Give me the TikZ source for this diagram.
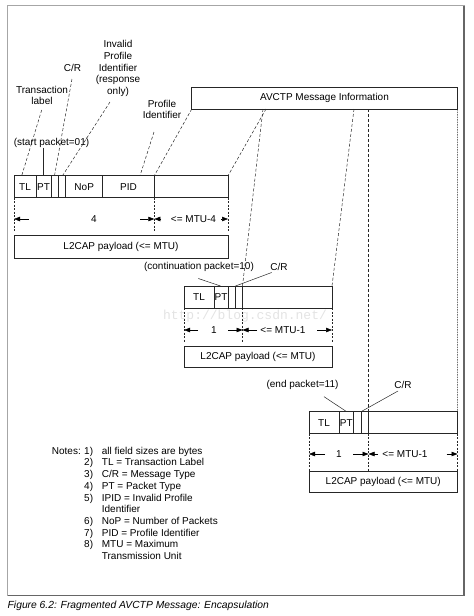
\documentclass[tikz,border=0pt]{standalone}
\usepackage{fontspec}
\setmainfont{Liberation Sans}
\newfontfamily\wmfont{Liberation Mono}
\usetikzlibrary{arrows.meta}
\begin{document}
\begin{tikzpicture}[x=1pt,y=-1pt,
  every node/.style={font=\fontsize{10}{11.7}\selectfont, inner sep=0pt},
  field/.style={draw=black!85, line width=0.6pt, minimum height=22pt, anchor=north west, inner sep=0pt, outer sep=0pt},
  lbl/.style={align=center},
  lead/.style={draw=black!85, line width=0.5pt, dash pattern=on 3pt off 2pt},
  solidlead/.style={draw=black!85, line width=0.5pt},
  dimline/.style={draw=black!85, line width=0.5pt, dash pattern=on 2pt off 1.5pt},
  fineline/.style={draw=black!85, line width=0.5pt, dash pattern=on 1.5pt off 1pt},
  arr/.style={draw=black, line width=0.5pt, -{Triangle[length=6pt,width=4.5pt]}},
  note/.style={anchor=base west},
]
\useasboundingbox (0,0) rectangle (474,616);
% frame
\draw[gray!70, line width=0.7pt] (7.5,5.5) rectangle (464,595);
\draw[black!60, line width=1.6pt] (464.2,5.5) -- (464.2,595.3) -- (7.5,595.3);
% watermark
\node[font=\wmfont\fontsize{13}{13}\selectfont, text=gray!22] (wm) at (245,316.5) {http://blog.csdn.net/};

% ---------------- packet 1 ----------------
\node[field, minimum width=22pt] (p1tl) at (14,175.7) {TL};
\node[field, minimum width=15pt] (p1pt) at (p1tl.north east) {PT};
\node[field, minimum width=7pt] (p1cr) at (p1pt.north east) {};
\node[field, minimum width=7.7pt] (p1ip) at (p1cr.north east) {};
\node[field, minimum width=37pt] (p1nop) at (p1ip.north east) {NoP};
\node[field, minimum width=51.6pt] (p1pid) at (p1nop.north east) {PID};
\node[field, minimum width=73.7pt] (p1pay) at (p1pid.north east) {};
\node[field, minimum width=214pt, minimum height=23pt] (p1l2) at (14,235) {L2CAP payload (<= MTU)};

% labels packet 1
\node[lbl] (tlab) at (42,95.5) {Transaction\\label};
\node (crlab) at (72.5,68) {C/R};
\node[lbl] (iplab) at (118,68.6) {Invalid\\Profile\\Identifier\\(response\\only)};
\node[lbl] (pidlab) at (162,109.5) {Profile\\Identifier};
\node (splab) at (51.5,143) {(start packet=01)};
\coordinate (tlA) at (41.7,110);   \coordinate (tlB) at (21.7,175.7);
\coordinate (crA) at (72,79);      \coordinate (crB) at (54.5,175.7);
\coordinate (ipA) at (110,102);    \coordinate (ipB) at (62.5,175.7);
\coordinate (pidA) at (154,132);   \coordinate (pidB) at (140,175.7);
\coordinate (spA) at (43.5,147.5);
\draw[lead] (tlA) -- (tlB);
\draw[lead] (crA) -- (crB);
\draw[lead] (ipA) -- (ipB);
\draw[lead] (pidA) -- (pidB);
\draw[solidlead] (spA) -- (spA |- p1pt.north);

% dimensions packet 1
\draw[dimline] (p1tl.south west) -- ++(0,34.5);
\draw[dimline] (p1pay.south west) -- ++(0,34.5);
\draw[dimline] (p1pay.south east) -- ++(0,34.5);
\node (p1d4) at (94,219) {4};
\node (p1dm) at (193.5,219) {<= MTU-4};
\coordinate (p1a1) at (28.7,219);
\coordinate (p1a2) at (140,219);
\coordinate (p1a3) at (161,219);
\coordinate (p1a4) at (221,219);
\draw[arr] (p1a1) -- (p1tl.south west |- p1a1);
\draw[arr] (p1a2) -- (p1pay.south west |- p1a2);
\draw[arr] (p1a3) -- (p1pay.south west |- p1a3);
\draw[arr] (p1a4) -- (p1pay.south east |- p1a4);

% ---------------- AVCTP box ----------------
\node[draw=black!85, line width=0.6pt, outer sep=0pt, minimum width=265.5pt, minimum height=22pt] (avctp) at (324.5,98) {AVCTP Message Information};

% ---------------- packet 2 ----------------
\node[field, minimum width=30pt] (p2tl) at (184,286) {TL};
\node[field, minimum width=14pt] (p2pt) at (p2tl.north east) {PT};
\node[field, minimum width=7.5pt] (p2cr) at (p2pt.north east) {};
\node[field, minimum width=7pt] (p2ip) at (p2cr.north east) {};
\node[field, minimum width=89.5pt] (p2pay) at (p2ip.north east) {};
\node[field, minimum width=148pt, minimum height=21pt] (p2l2) at (184,346) {L2CAP payload (<= MTU)};

\node (cplab) at (199,266.5) {(continuation packet=10)};
\node (cr2lab) at (279,266.5) {C/R};
\coordinate (cpA) at (198.3,278.5);  \coordinate (cpB) at (220.5,286);
\coordinate (cr2A) at (271.7,272.5); \coordinate (cr2B) at (235.5,286);
\draw[solidlead] (cpA) -- (cpB);
\draw[solidlead] (cr2A) -- (cr2B);

\draw[dimline] (p2tl.south west) -- ++(0,35);
\draw[dimline] (p2pay.south west) -- ++(0,35);
\draw[dimline] (p2pay.south east) -- ++(0,35);
\node (p2d1) at (214,330) {1};
\node (p2dm) at (283,330) {<= MTU-1};
\coordinate (p2a1) at (198,330);
\coordinate (p2a2) at (228,330);
\coordinate (p2a3) at (257,330);
\coordinate (p2a4) at (317,330);
\draw[arr] (p2a1) -- (p2tl.south west |- p2a1);
\draw[arr] (p2a2) -- (p2pay.south west |- p2a2);
\draw[arr] (p2a3) -- (p2pay.south west |- p2a3);
\draw[arr] (p2a4) -- (p2pay.south east |- p2a4);

% ---------------- packet 3 ----------------
\node[field, minimum width=30pt] (p3tl) at (309,411.7) {TL};
\node[field, minimum width=14.5pt] (p3pt) at (p3tl.north east) {PT};
\node[field, minimum width=7.5pt] (p3cr) at (p3pt.north east) {};
\node[field, minimum width=7.5pt] (p3ip) at (p3cr.north east) {};
\node[field, minimum width=89pt] (p3pay) at (p3ip.north east) {};
\node[field, minimum width=148.5pt, minimum height=21pt] (p3l2) at (309,471.7) {L2CAP payload (<= MTU)};

\node (eplab) at (302.5,385) {(end packet=11)};
\node (cr3lab) at (403,385) {C/R};
\coordinate (epA) at (324,396.7);  \coordinate (epB) at (346.7,411.7);
\coordinate (cr3A) at (398,391); \coordinate (cr3B) at (361,411.7);
\draw[solidlead] (epA) -- (epB);
\draw[solidlead] (cr3A) -- (cr3B);

\draw[dimline] (p3tl.south west) -- ++(0,37);
\draw[dimline] (p3pay.south west) -- ++(0,37);
\draw[dimline] (p3pay.south east) -- ++(0,37);
\node (p3d1) at (339,454) {1};
\node (p3dm) at (405,454) {<= MTU-1};
\coordinate (p3a1) at (325,454);
\coordinate (p3a2) at (353,454);
\coordinate (p3a3) at (378,454);
\coordinate (p3a4) at (446.7,454);
\draw[arr] (p3a1) -- (p3tl.south west |- p3a1);
\draw[arr] (p3a2) -- (p3pay.south west |- p3a2);
\draw[arr] (p3a3) -- (p3pay.south west |- p3a3);
\draw[arr] (p3a4) -- (p3pay.south east |- p3a4);

% ---------------- AVCTP leaders ----------------
\coordinate (av1) at (266,109);
\coordinate (av2) at (263,109);
\coordinate (av3) at (354,109);
\draw[lead] (avctp.south west) -- (p1pay.north west);
\draw[lead] (av1) -- (p1pay.north east);
\draw[lead] (av2) -- (p2pay.north west);
\draw[lead] (av3) -- (p2pay.north east);
\draw[lead] (avctp.south -| p3pay.north west) -- (p3pay.north west);
\draw[fineline] (avctp.south east) -- (p3pay.north east);

% ---------------- notes ----------------
\node[note] (nhead) at (51.7,454.2) {Notes:};
\node[note] (n1) at (84,454.2) {1)};   \node[note] (t1) at (101.7,454.2) {all field sizes are bytes};
\node[note] (n2) at (84,465.9) {2)};   \node[note] (t2) at (101.7,465.9) {TL = Transaction Label};
\node[note] (n3) at (84,477.6) {3)};   \node[note] (t3) at (101.7,477.6) {C/R = Message Type};
\node[note] (n4) at (84,489.3) {4)};   \node[note] (t4) at (101.7,489.3) {PT = Packet Type};
\node[note] (n5) at (84,501.0) {5)};   \node[note] (t5) at (101.7,501.0) {IPID = Invalid Profile};
                                        \node[note] (t5b) at (101.7,512.7) {Identifier};
\node[note] (n6) at (84,524.4) {6)};   \node[note] (t6) at (101.7,524.4) {NoP = Number of Packets};
\node[note] (n7) at (84,536.1) {7)};   \node[note] (t7) at (101.7,536.1) {PID = Profile Identifier};
\node[note] (n8) at (84,547.8) {8)};   \node[note] (t8) at (101.7,547.8) {MTU = Maximum};
                                        \node[note] (t8b) at (101.7,559.5) {Transmission Unit};

% caption
\node[anchor=west, font=\itshape\fontsize{10.3}{12}\selectfont] (cap) at (7.5,605.5) {Figure 6.2: Fragmented AVCTP Message: Encapsulation};
\end{tikzpicture}
\end{document}
